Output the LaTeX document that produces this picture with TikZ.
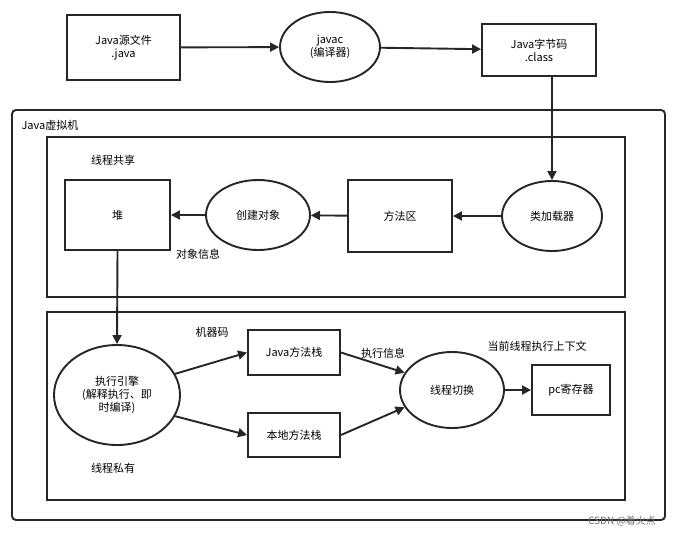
\documentclass[tikz,border=0pt]{standalone}
\usepackage{fontspec}
\setmainfont{Noto Sans CJK SC}
\usetikzlibrary{shapes.geometric,arrows.meta}
\begin{document}
\begin{tikzpicture}[x=1pt,y=-1pt,
 box/.style={draw=black!85,line width=1.9pt,align=center,font=\fontsize{11}{13}\selectfont},
 ell/.style={draw=black!85,line width=1.9pt,ellipse,align=center,font=\fontsize{11}{13}\selectfont,inner sep=0pt},
 frame/.style={draw=black!85,line width=1.9pt},
 lbl/.style={font=\fontsize{11}{13}\selectfont},
 arr/.style={-{Triangle[length=9pt,width=9pt]},line width=1.9pt,draw=black!85}]
\useasboundingbox[fill=white] (0,0) rectangle (684,536);
\draw[frame,rounded corners=4pt] (12,110) rectangle (665,520);
\node[lbl,anchor=west] (jvm) at (18,125) {Java虚拟机};
\draw[frame] (47,137) rectangle (625,297);
\draw[frame] (47,312) rectangle (625,500);
\node[lbl] (share) at (113,160) {线程共享};
\node[lbl] (priv) at (113,468) {线程私有};

\node[box,minimum width=113pt,minimum height=65pt] (src) at (123.5,47.5) {Java源文件\\.java};
\node[ell,minimum width=100pt,minimum height=70pt] (javac) at (330,47) {javac\\(编译器)};
\node[box,minimum width=114pt,minimum height=52pt] (cls) at (539,50) {Java字节码\\.class};

\node[box,minimum width=105pt,minimum height=70pt] (heap) at (117.5,215) {堆};
\node[ell,minimum width=104pt,minimum height=70pt] (create) at (258,215) {创建对象};
\node[box,minimum width=104pt,minimum height=72pt] (method) at (400,216) {方法区};
\node[ell,minimum width=100pt,minimum height=70pt] (loader) at (552,216) {类加载器};
\node[lbl] (objinfo) at (198,254) {对象信息};

\node[ell,minimum width=126pt,minimum height=100pt] (engine) at (117,395) {执行引擎\\(解释执行、即\\时编译)};
\node[lbl] (mc) at (212,332) {机器码};
\node[box,minimum width=92pt,minimum height=45pt] (jstack) at (294,352.5) {Java方法栈};
\node[box,minimum width=92pt,minimum height=44pt] (nstack) at (294,435) {本地方法栈};
\node[lbl] (exinfo) at (383,353) {执行信息};
\node[ell,minimum width=104pt,minimum height=76pt] (switch) at (452,390) {线程切换};
\node[lbl] (ctx) at (537,346) {当前线程执行上下文};
\node[box,minimum width=78pt,minimum height=50pt] (pc) at (571,390) {pc寄存器};
\node[font=\fontsize{10}{12}\selectfont,text=black!55] (wm) at (622,521) {CSDN @着火点};

\draw[arr] (src) -- (javac);
\draw[arr] (javac) -- (cls);
\draw[arr] (cls.south -| loader.north) -- (loader.north);
\draw[arr] (loader) -- (method);
\draw[arr] (method) -- (create);
\draw[arr] (create) -- (heap);
\draw[arr] (heap.south) -- (engine.north);
\draw[arr] (engine.20) -- (jstack.west);
\draw[arr] (engine.-20) -- (nstack.west);
\draw[arr] (jstack.east) -- (switch.160);
\draw[arr] (nstack.east) -- (switch.-160);
\draw[arr] (switch) -- (pc);
\end{tikzpicture}
\end{document}
